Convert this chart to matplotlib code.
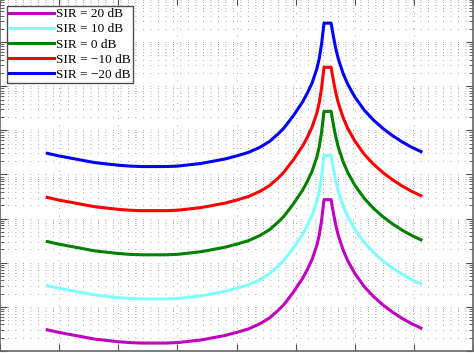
import numpy as np
import matplotlib
matplotlib.use('Agg')
import matplotlib.pyplot as plt
from matplotlib.ticker import LogLocator, NullFormatter, MultipleLocator

# angle grid (deg) of the spectra
angles = [-80, -75, -70, -65, -60, -55, -50, -45, -40, -35, -30, -25, -20, -15, -10, -5,
          0, 5, 10, 14, 18, 20, 22, 24, 26, 28, 30, 32, 34, 35, 36, 37, 40, 41, 42, 43,
          45, 47, 50, 54, 58, 62, 66, 70, 74, 78]

# spatial spectra in dB
db_m20 = [14.8, 14.2, 13.7, 13.2, 12.7, 12.4, 12.1, 11.9, 11.8, 11.8, 11.8, 11.9, 12.2,
          12.5, 13.0, 13.5, 14.2, 15.0, 16.2, 17.5, 19.4, 20.5, 21.9, 23.3, 24.9, 26.5,
          28.5, 30.8, 34.0, 36.3, 39.7, 44.3, 44.3, 41.2, 38.5, 36.3, 33.0, 30.5, 27.6,
          24.6, 22.3, 20.4, 18.8, 17.4, 16.2, 15.2]
db_m10 = [4.8, 4.2, 3.7, 3.2, 2.7, 2.4, 2.1, 1.9, 1.8, 1.8, 1.8, 1.9, 2.2,
          2.5, 3.0, 3.5, 4.2, 5.0, 6.2, 7.5, 9.4, 10.5, 11.9, 13.3, 14.9, 16.5,
          18.5, 20.8, 24.0, 26.3, 29.7, 34.3, 34.3, 31.2, 28.5, 26.3, 23.0, 20.5, 17.6,
          14.6, 12.3, 10.4, 8.8, 7.4, 6.2, 5.2]
db_0 = [-5.2, -5.8, -6.3, -6.8, -7.3, -7.6, -7.9, -8.1, -8.2, -8.2, -8.2, -8.1, -7.8,
        -7.5, -7.0, -6.5, -5.8, -5.0, -3.8, -2.5, -0.6, 0.5, 1.9, 3.3, 4.9, 6.5,
        8.5, 10.8, 14.0, 16.3, 19.7, 24.3, 24.3, 21.2, 18.5, 16.3, 13.0, 10.5, 7.6,
        4.6, 2.3, 0.4, -1.2, -2.6, -3.8, -4.8]
db_10 = [-15.2, -15.8, -16.3, -16.8, -17.3, -17.6, -17.9, -18.1, -18.2, -18.2, -18.2, -18.1, -17.8,
         -17.5, -17.0, -16.5, -15.8, -15.0, -13.8, -12.5, -10.6, -9.5, -8.1, -6.7, -5.1, -3.5,
         -1.5, 0.8, 4.0, 6.3, 9.7, 14.3, 14.3, 11.2, 8.5, 6.3, 3.0, 0.5, -2.4,
         -5.4, -7.7, -9.6, -11.2, -12.6, -13.8, -14.8]
db_20 = [-25.2, -25.8, -26.3, -26.8, -27.3, -27.6, -27.9, -28.1, -28.2, -28.2, -28.2, -28.1, -27.8,
         -27.5, -27.0, -26.5, -25.8, -25.0, -23.8, -22.5, -20.6, -19.5, -18.1, -16.7, -15.1, -13.5,
         -11.5, -9.2, -6.0, -3.7, -0.3, 4.3, 4.3, 1.2, -1.5, -3.7, -7.0, -9.5, -12.4,
         -15.4, -17.7, -19.6, -21.2, -22.6, -23.8, -24.8]

labels = ['SIR = 20 dB', 'SIR = 10 dB', 'SIR = 0 dB', 'SIR = \u221210 dB', 'SIR = \u221220 dB']
colors = [(0.75, 0, 0.75), (0.5, 1, 1), (0, 0.5, 0), (1, 0, 0), (0, 0, 1)]
series = [db_20, db_10, db_0, db_m10, db_m20]

plt.rcParams['font.family'] = ['Liberation Serif', 'DejaVu Serif']

fig = plt.figure(figsize=(4.74, 3.53), dpi=100)
ax = fig.add_axes([0, 2/353, 473/474, 353/353])

for s, c, l in zip(series, colors, labels):
    ax.plot(angles, 10 ** (np.array(s) / 10), color=c, lw=2.2, label=l)

ax.set_yscale('log')
ax.set_ylim(1e-3, 1e5)
ax.set_xlim(-100, 100)
ax.xaxis.set_major_locator(MultipleLocator(25))
ax.yaxis.set_major_locator(LogLocator(base=10, numticks=20))
ax.yaxis.set_minor_locator(LogLocator(base=10, subs=np.arange(2, 10), numticks=20))
ax.yaxis.set_minor_formatter(NullFormatter())
ax.grid(which='major', axis='both', color='0.55', lw=0.6, linestyle=(0, (1, 8)))
ax.grid(which='minor', axis='y', color='0.55', lw=0.6, linestyle=(0, (1, 8)))
ax.tick_params(which='both', direction='in', top=True, right=True,
               labelbottom=False, labelleft=False, color='0.3')
ax.tick_params(which='major', length=5)
ax.tick_params(which='minor', length=3)
for sp in ax.spines.values():
    sp.set_color('0.4')
    sp.set_linewidth(1.2)

ax.legend(loc='upper left', bbox_to_anchor=(0.0148, 0.977), fontsize=9.5,
          handlelength=3.4, handletextpad=0.2, labelspacing=0.22,
          borderpad=0.15, borderaxespad=0, fancybox=False, framealpha=1,
          edgecolor='0.3')

fig.savefig('out.png', dpi=100)
